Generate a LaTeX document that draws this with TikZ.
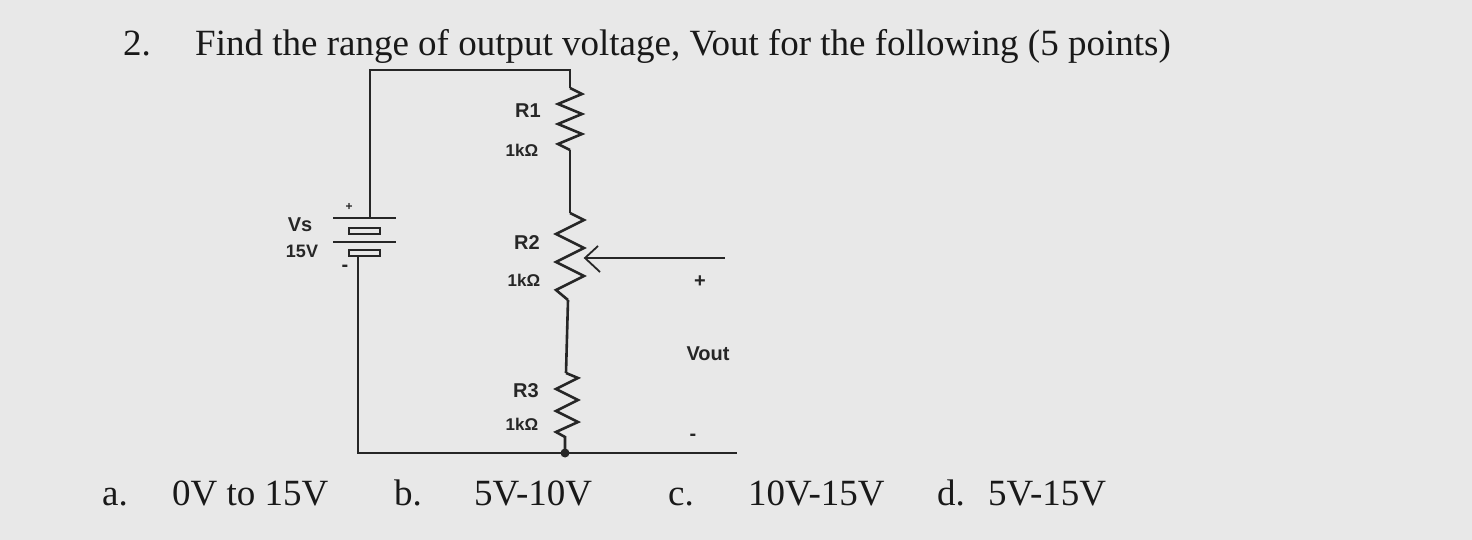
\documentclass[tikz,border=0pt]{standalone}
\usepackage{fontspec}
\setmainfont{Liberation Serif}
\newfontfamily\lab{Liberation Sans}
\begin{document}
\begin{tikzpicture}[x=1pt,y=-1pt,
  wire/.style={line width=2.6pt,black!85},
  lbl/.style={font=\lab\bfseries\fontsize{20}{22}\selectfont,text=black!85,inner sep=0pt},
  ohm/.style={font=\lab\bfseries\fontsize{17}{19}\selectfont,text=black!85,inner sep=0pt},
  big/.style={font=\fontsize{37}{40}\selectfont,text=black!90,inner sep=0pt,anchor=base west}]
\fill[gray!18] (0,0) rectangle (1472,540);
\useasboundingbox (0,0) rectangle (1472,540);
\node[big] (q0) at (123,56) {2.};
\node[big] (q) at (195,56) {Find the range of output voltage, Vout for the following (5 points)};
% coordinates
\coordinate (tl) at (370,70); \coordinate (tr) at (570,70);
\coordinate (bp) at (370,218); \coordinate (bn) at (358,256);
\coordinate (bl) at (358,453); \coordinate (dot) at (565,453);
\coordinate (br) at (737,453);
\coordinate (w) at (585,258); \coordinate (we) at (725,258);
\draw[wire] (bp) -- (tl) -- (tr) -- (570,88);
\draw[wire] (570,88) -- (582,94) -- (558,104) -- (582,114) -- (558,124) -- (582,134) -- (558,144) -- (570,150);
\draw[wire] (570,150) -- (570,213);
\draw[wire] (570,213) -- (584,220) -- (556,234) -- (584,248) -- (556,262) -- (584,276) -- (556,290) -- (568,300);
\draw[wire] (568,300) -- (566,373);
\draw[wire] (566,373) -- (578,378) -- (556,389) -- (578,400) -- (556,411) -- (578,422) -- (556,432) -- (565,437) -- (dot);
\draw[wire] (bn) -- (bl) -- (dot) -- (br);
\fill[black!85] (dot) circle (4.5);
\draw[wire] (w) -- (we);
\draw[wire,line width=1.8pt] (598,246) -- (w) -- (600,272);
% battery
\draw[wire] (333,218) -- (396,218);
\draw[wire] (333,242) -- (396,242);
\draw[wire] (349,228) rectangle (380,234);
\draw[wire] (349,250) rectangle (380,256);
% labels
\node[lbl] (vs) at (300,225) {Vs};
\node[lbl,font=\lab\bfseries\fontsize{18}{20}\selectfont] (v15) at (302,251) {15V};
\node[lbl,font=\lab\bfseries\fontsize{12}{12}\selectfont] (pl) at (349,207) {+};
\node[lbl] (mi) at (345,268) {-};
\node[lbl] (r1) at (528,111) {R1};
\node[ohm] (k1) at (522,150) {1kΩ};
\node[lbl] (r2) at (527,243) {R2};
\node[ohm] (k2) at (524,280) {1kΩ};
\node[lbl] (r3) at (526,391) {R3};
\node[ohm] (k3) at (522,424) {1kΩ};
\node[lbl] (op) at (700,282) {+};
\node[lbl] (vo) at (708,354) {Vout};
\node[lbl] (om) at (693,437) {-};
% answers
\node[big] (a) at (102,505) {a.};
\node[big] (aa) at (172,505) {0V to 15V};
\node[big] (b) at (394,505) {b.};
\node[big] (bb) at (474,505) {5V-10V};
\node[big] (c) at (668,505) {c.};
\node[big] (cc) at (748,505) {10V-15V};
\node[big] (d) at (937,505) {d.};
\node[big] (dd) at (988,505) {5V-15V};
\end{tikzpicture}
\end{document}
